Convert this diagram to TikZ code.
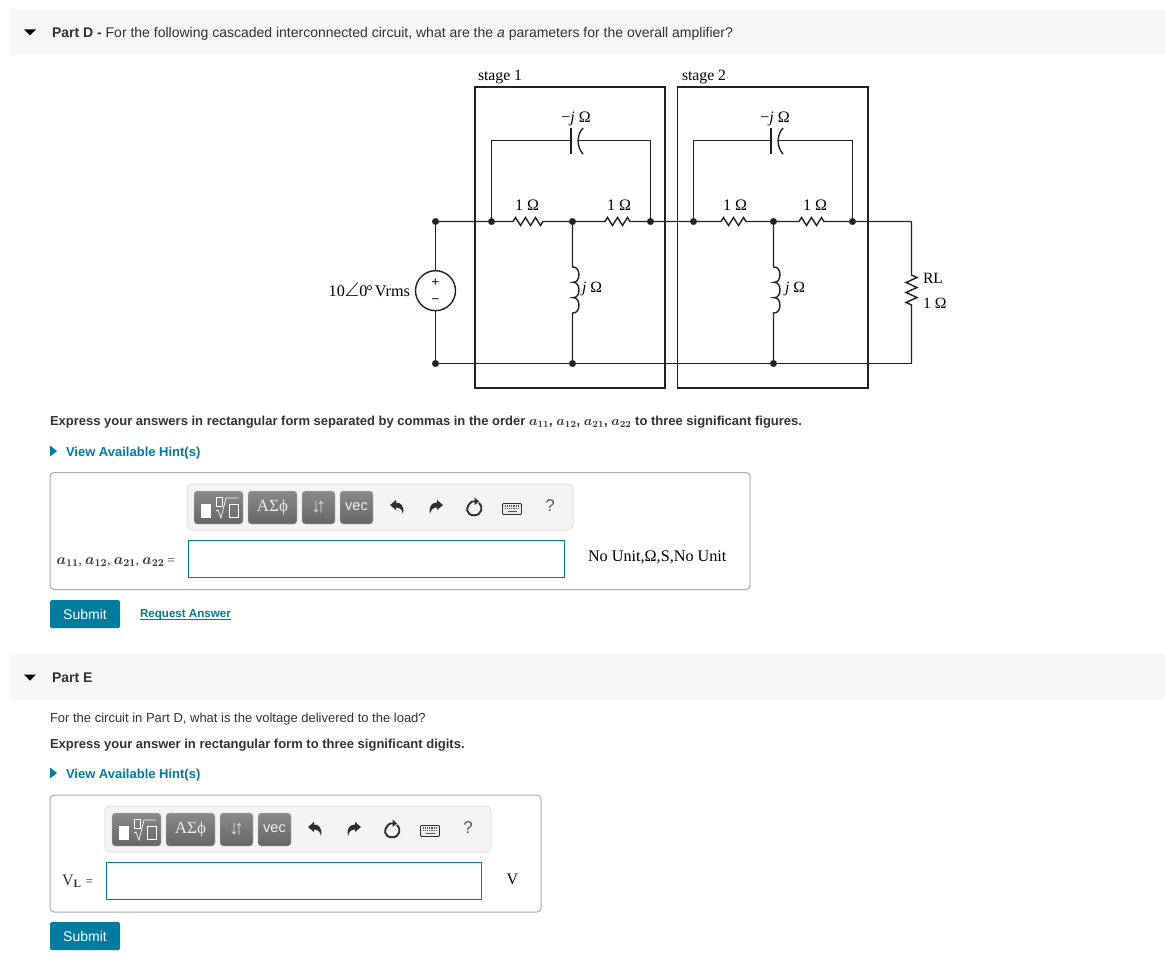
\RequirePackage{fix-cm}
\documentclass[tikz,border=0pt]{standalone}
\usepackage{fontspec}
\usepackage{amssymb}
\setmainfont{Liberation Sans}
\newfontfamily\ser{Liberation Serif}
\usetikzlibrary{decorations.pathmorphing,shadings}
\definecolor{band}{HTML}{F7F7F7}
\definecolor{txt}{HTML}{333333}
\definecolor{teal}{HTML}{007C9E}
\definecolor{wire}{HTML}{222222}
\definecolor{tbbg}{HTML}{F4F4F4}
\definecolor{tbln}{HTML}{E2E2E2}
\definecolor{bxln}{HTML}{ABABAB}
\definecolor{icon}{HTML}{2F2F2F}
\newcommand{\fs}[1]{\fontsize{#1}{#1}\selectfont}
\newcommand{\mth}[1]{{\fs{15}\boldmath$#1$}}
\newcommand{\mthb}[1]{{\fs{13.5}\boldmath$#1$}}
\tikzset{
  x=1pt,y=-1pt,
  every node/.style={inner sep=0pt,outer sep=0pt},
  sf/.style={font=\fs{14},text=txt,anchor=mid west,yshift=-2.5pt},
  sfb/.style={font=\fs{14}\bfseries,text=txt,anchor=mid west,yshift=-2.5pt},
  hint/.style={font=\fs{13}\bfseries,text=teal,anchor=mid west,yshift=-2.5pt},
  sr/.style={font=\ser\fs{15.7},text=black,anchor=mid west,yshift=-2.5pt},
  src/.style={font=\ser\fs{16},text=black,anchor=mid,yshift=-2.5pt},
  dot/.style={circle,fill=wire,minimum size=7pt},
  wr/.style={draw=wire,line width=1.4pt},
  stagebox/.style={draw=wire,line width=1.6pt},
  plate/.style={draw=wire,line width=1.8pt},
  zz/.style={decoration={zigzag,segment length=10pt,amplitude=4pt}},
  zv/.style={decoration={zigzag,segment length=10pt,amplitude=5.5pt}},
  tri/.style={fill=#1,draw=none},
  band/.style={fill=band,draw=none},
  answer/.style={draw=bxln,line width=1pt,rounded corners=4pt,fill=white},
  inbox/.style={draw=teal,line width=.9pt,fill=white},
  subm/.style={fill=teal,rounded corners=1.5pt,text=white,font=\fs{14},anchor=center,minimum width=70pt,minimum height=28pt},
  btn/.style={rounded corners=3pt,top color=black!46,bottom color=black!60,draw=black!20,line width=.4pt,anchor=north west,text=white},
  ic/.style={fill=icon,draw=none},
  pics/toolbar/.style={code={
    \draw[fill=tbbg,draw=tbln,line width=1pt,rounded corners=5pt] (0,0) rectangle (386,46);
    \node[btn,minimum width=49pt,minimum height=33pt] (m) at (7,7) {};
    \node[btn,minimum width=49pt,minimum height=33pt,font=\ser\fs{17},text=white!92!black] (g) at (61,7) {ΑΣϕ};
    \node[btn,minimum width=33pt,minimum height=33pt,font=\fs{20},text=white!85!black] (o) at (115,7) {↓\kern-5pt↑};
    \node[btn,minimum width=33pt,minimum height=33pt,font=\fs{14.5},text=white!95!black] (v) at (153,7) {\raisebox{2pt}{vec}};
    \fill[white] (14,20) rectangle (24,34);
    \draw[white,line width=.6pt] (29,13) rectangle (35,22);
    \draw[white,line width=.7pt] (29,27) -- (31,26) -- (34,34) -- (39,14) -- (51,14);
    \draw[white,line width=.6pt] (42,20) rectangle (51,33);
    \begin{scope}[shift={(210,23)}]
      \fill[ic] (-7,-2) -- (-1,-7) -- (-1,3) -- cycle;
      \fill[ic] (-1,-4.5) .. controls (4,-4.5) and (7.5,-1) .. (6,7) .. controls (5,2.5) and (3,.5) .. (-1,.5) -- cycle;
    \end{scope}
    \begin{scope}[shift={(249,23)},xscale=-1]
      \fill[ic] (-7,-2) -- (-1,-7) -- (-1,3) -- cycle;
      \fill[ic] (-1,-4.5) .. controls (4,-4.5) and (7.5,-1) .. (6,7) .. controls (5,2.5) and (3,.5) .. (-1,.5) -- cycle;
    \end{scope}
    \begin{scope}[shift={(287,24)}]
      \draw[icon,line width=1.9pt] (5,-5.2) .. controls (9.5,-1.5) and (8,7.3) .. (0,7.3) .. controls (-8,7.3) and (-9.5,-1) .. (-2,-6.5) -- (1,-6.5);
      \fill[ic] (.5,-10.5) -- (5,-6.5) -- (.5,-3) -- cycle;
    \end{scope}
    \begin{scope}[shift={(325,25)}]
      \draw[icon,line width=.9pt,fill=white!92!black,rounded corners=1pt] (-9.5,-5.5) rectangle (9.5,5.5);
      \draw[black!65,line width=1.2pt,dash pattern=on 1.2pt off 1pt] (-7.5,-3) -- (7.5,-3);
      \draw[black!65,line width=1.2pt,dash pattern=on 1.2pt off 1pt] (-7.5,-.4) -- (7.5,-.4);
      \draw[black!65,line width=1.2pt] (-4.5,2.3) -- (4.5,2.3);
    \end{scope}
    \node[font=\fs{17},text=black!65,anchor=center] (q) at (363,22) {?};
  }}
}
\begin{document}
\begin{tikzpicture}
\path[use as bounding box,fill=white] (0,0) rectangle (1165,974);

% header bands
\path[band] (10,9) rectangle (1165,55);
\path[band] (10,654) rectangle (1165,700);
\fill[tri=black] (24,29.5) -- (36,29.5) -- (30,35.5) -- cycle;
\fill[tri=black] (24,674.5) -- (36,674.5) -- (30,680.5) -- cycle;
\node[sf] (partd) at (52,32) {\textbf{Part D -} For the following cascaded interconnected circuit, what are the \textit{a} parameters for the overall amplifier?};
\node[sfb] (parte) at (52,677) {Part E};

% stage boxes
\draw[stagebox] (475,87) rectangle (665,388);
\draw[stagebox] (677.5,87) rectangle (868,388);
\node[sr] (st1) at (478,75) {stage 1};
\node[sr] (st2) at (682,75) {stage 2};

% junctions
\node[dot] (jt) at (435.5,221.5) {};
\node[dot] (jb) at (435.5,363.5) {};
\node[dot] (a1) at (491.5,221.5) {};
\node[dot] (b1) at (572.5,221.5) {};
\node[dot] (c1) at (650.5,221.5) {};
\node[dot] (a2) at (693.5,221.5) {};
\node[dot] (b2) at (773.5,221.5) {};
\node[dot] (c2) at (852.5,221.5) {};
\node[dot] (d1) at (572.5,363.5) {};
\node[dot] (d2) at (773.5,363.5) {};
\coordinate (rt) at (911.5,221.5);
\coordinate (rb) at (911.5,363.5);

% source
\node[circle,draw=wire,line width=1.4pt,minimum size=40pt,fill=white] (vs) at (435.5,290.7) {};
\node[anchor=center,font=\fs{13}] (vp) at (435.5,282.5) {+};
\node[anchor=center,font=\fs{13}] (vm) at (435.5,301.5) {−};
\draw[wr] (jt) -- (vs);
\draw[wr] (jb) -- (vs);

% main wires with resistors
\coordinate (r1a) at (513,221.5); \coordinate (r1b) at (544,221.5);
\coordinate (r2a) at (605,221.5); \coordinate (r2b) at (634,221.5);
\coordinate (r3a) at (721,221.5); \coordinate (r3b) at (749,221.5);
\coordinate (r4a) at (799,221.5); \coordinate (r4b) at (828,221.5);
\draw[wr,zz] (jt) -- (a1) -- (r1a) decorate{-- (r1b)} -- (b1) -- (r2a) decorate{-- (r2b)} -- (c1) -- (a2) -- (r3a) decorate{-- (r3b)} -- (b2) -- (r4a) decorate{-- (r4b)} -- (c2) -- (rt);
\coordinate (r5a) at (911.5,275); \coordinate (r5b) at (911.5,305);
\draw[wr,zv] (rt) -- (r5a) decorate{-- (r5b)} -- (rb);
\draw[wr] (rb) -- (d2) -- (d1) -- (jb);

% inductors
\coordinate (l1a) at (572.5,267); \coordinate (l1b) at (572.5,313);
\coordinate (l2a) at (773.5,267); \coordinate (l2b) at (773.5,313);
\draw[wr] (b1) -- (l1a)
  .. controls (581,266) and (581,283) .. (573,282.33)
  .. controls (581,281.5) and (581,298.5) .. (573,297.67)
  .. controls (581,297) and (581,314) .. (l1b) -- (d1);
\draw[wr] (b2) -- (l2a)
  .. controls (782,266) and (782,283) .. (774,282.33)
  .. controls (782,281.5) and (782,298.5) .. (774,297.67)
  .. controls (782,297) and (782,314) .. (l2b) -- (d2);

% capacitors
\coordinate (c1l) at (571,140.5); \coordinate (c1r) at (578,140.5);
\coordinate (c2l) at (771,140.5); \coordinate (c2r) at (778,140.5);
\draw[wr] (a1) |- (c1l);
\draw[wr] (c1r) -| (c1);
\draw[plate] (571,128) -- (571,154);
\draw[wr] (583,128) .. controls (576.5,135) and (576.5,147) .. (583,154);
\draw[wr] (a2) |- (c2l);
\draw[wr] (c2r) -| (c2);
\draw[plate] (771,128) -- (771,154);
\draw[wr] (783,128) .. controls (776.5,135) and (776.5,147) .. (783,154);

% circuit labels
\node[src] (lr1) at (527,205) {1 Ω};
\node[src] (lr2) at (619,205) {1 Ω};
\node[src] (lr3) at (735,205) {1 Ω};
\node[src] (lr4) at (815,205) {1 Ω};
\node[src] (lc1) at (576,117) {−\textit{j} Ω};
\node[src] (lc2) at (775,117) {−\textit{j} Ω};
\node[sr] (ll1) at (582,287) {\textit{j} Ω};
\node[sr] (ll2) at (785,287) {\textit{j} Ω};
\node[sr] (lrl) at (923,278) {RL};
\node[sr] (lro) at (923,303) {1 Ω};
\node[sr,anchor=mid east,font=\ser\fs{16.2}] (lvs) at (410,291) {10{\fs{20}$\angle$}0\kern-1pt° \kern-2pt Vrms};

% question text
\node[sfb,font=\fs{13}\bfseries] (expr1) at (50,420.5) {Express your answers in rectangular form separated by commas in the order \mthb{a_{11}}, \mthb{a_{12}}, \mthb{a_{21}}, \mthb{a_{22}} to three significant figures.};
\fill[tri=teal] (50,445.5) -- (57,451) -- (50,456.5) -- cycle;
\node[hint] (h1) at (66,451.5) {View Available Hint(s)};

% answer panel 1
\draw[answer] (50,472.5) rectangle (750,589.5);
\pic (ta) at (187,484) {toolbar};
\node[anchor=mid east,font=\ser\fs{13},text=txt,yshift=-2.5pt] (eq1) at (175,559) {\mth{a_{11}}, \mth{a_{12}}, \mth{a_{21}}, \mth{a_{22}} =};
\node[inbox,anchor=north west,minimum width=376pt,minimum height=37pt] (in1) at (188,540) {};
\node[sr,font=\ser\fs{16.2}] (unit) at (588,556) {No Unit,Ω,S,No Unit};
\node[subm] (sb1) at (85,614) {Submit};
\node[font=\fs{11.6}\bfseries,text=teal,anchor=mid west,yshift=-2.5pt] (ra) at (140,612.5) {Request Answer};
\draw[teal,line width=.8pt] (ra.base west) ++(0,1.6) -- ++(91,0);

% part E
\node[sf,font=\fs{13}] (fc) at (50,717.5) {For the circuit in Part D, what is the voltage delivered to the load?};
\node[sfb,font=\fs{13}\bfseries] (expr2) at (50,743.5) {Express your answer in rectangular form to three significant digits.};
\fill[tri=teal] (50,767.5) -- (57,773) -- (50,778.5) -- cycle;
\node[hint] (h2) at (66,773.5) {View Available Hint(s)};

% answer panel 2
\draw[answer] (50,795) rectangle (541,912);
\pic (tb) at (105,806) {toolbar};
\node[anchor=mid west,font=\ser\fs{16},text=txt,yshift=-2.5pt] (eq2) at (62,880) {V\textsubscript{\textbf{L}} {\fs{13}=}};
\node[inbox,anchor=north west,minimum width=375.5pt,minimum height=37pt] (in2) at (106,862.5) {};
\node[sr,font=\ser\fs{16}] (uv) at (506.5,879) {V};
\node[subm] (sb2) at (85,936) {Submit};
\end{tikzpicture}
\end{document}
